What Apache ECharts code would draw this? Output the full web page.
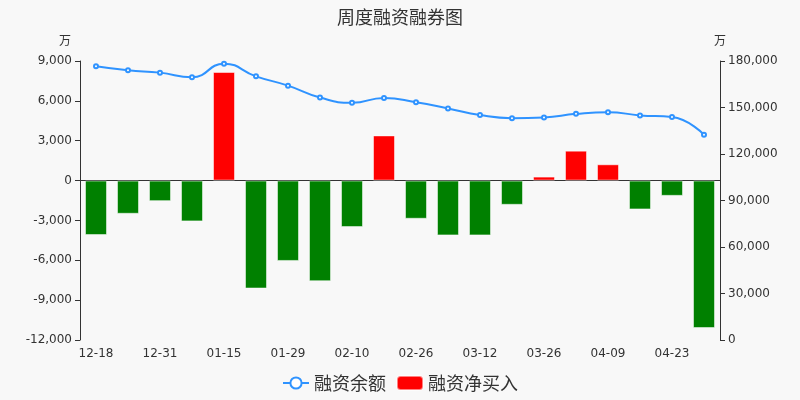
<!DOCTYPE html>
<html>
<head>
<meta charset="utf-8">
<script src="https://cdn.jsdelivr.net/npm/echarts@6/dist/echarts.min.js"></script>
<style>
  html, body { margin: 0; padding: 0; background: #f8f8f8; }
  #chart { width: 800px; height: 400px; }
</style>
</head>
<body>
<div id="chart"></div>
<script>
// 周日期
var dates = ["12-18", "12-25", "12-31", "01-08", "01-15", "01-22", "01-29", "02-05", "02-10", "02-19",
  "02-26", "03-05", "03-12", "03-19", "03-26", "04-02", "04-09", "04-16", "04-23", "04-30"];
// 融资净买入（万）
var netBuy = [-4100, -2500, -1550, -3075, 8175, -8125, -6050, -7575, -3500, 3400,
  -2875, -4125, -4125, -1825, 300, 2250, 1225, -2175, -1150, -11100];
// 融资余额（万）
var balance = [176600, 174000, 172500, 169500, 178300, 170100, 164100, 156400, 153000, 156200,
  153400, 149400, 145100, 143100, 143600, 145900, 147000, 144900, 143800, 132400];

var myChart = echarts.init(document.getElementById("chart"));
var fontFamily = "DejaVu Sans, Noto Sans CJK SC, sans-serif";

myChart.setOption({
  backgroundColor: "#f8f8f8",
  animation: false,
  textStyle: { fontFamily: fontFamily },
  title: {
    text: "周度融资融券图",
    left: "center",
    top: 3,
    textStyle: { fontSize: 18, fontWeight: "normal", color: "#333", fontFamily: "Noto Sans CJK SC" },
  },
  legend: {
    bottom: 3,
    left: "center",
    itemWidth: 26,
    itemHeight: 14,
    itemGap: 10,
    textStyle: { fontSize: 18, color: "#333", fontFamily: "Noto Sans CJK SC" },
    data: [
      { name: "融资余额" },
      { name: "融资净买入", icon: "roundRect" },
    ],
  },
  grid: { left: 80, right: 80, top: 61, bottom: 60 },
  xAxis: [
    {
      type: "category",
      data: dates,
      axisLine: { onZero: true, lineStyle: { color: "#333" } },
      axisTick: { interval: 1, alignWithLabel: false },
      axisLabel: { show: false },
    },
    {
      type: "category",
      data: dates,
      position: "bottom",
      axisLine: { show: false, onZero: false },
      axisTick: { show: false },
      axisLabel: { interval: 1, color: "#333", fontSize: 12 },
    },
  ],
  yAxis: [
    {
      type: "value",
      name: "万",
      nameGap: 15,
      nameTextStyle: { color: "#333", fontFamily: "Noto Sans CJK SC", fontSize: 12, padding: [0, 30, 0, 0] },
      min: -12000,
      max: 9000,
      interval: 3000,
      axisLine: { show: true, lineStyle: { color: "#333" } },
      axisTick: { show: true },
      axisLabel: { color: "#333", fontSize: 12 },
      splitLine: { show: false },
    },
    {
      type: "value",
      name: "万",
      nameGap: 15,
      nameTextStyle: { color: "#333", fontFamily: "Noto Sans CJK SC", fontSize: 12 },
      min: 0,
      max: 180000,
      interval: 30000,
      axisLine: { show: true, lineStyle: { color: "#333" } },
      axisTick: { show: true },
      axisLabel: { color: "#333", fontSize: 12 },
      splitLine: { show: false },
    },
  ],
  series: [
    {
      name: "融资余额",
      type: "line",
      yAxisIndex: 1,
      smooth: true,
      symbol: "emptyCircle",
      symbolSize: 4,
      z: 3,
      itemStyle: { color: "#2f93ff" },
      lineStyle: { width: 2, color: "#2f93ff" },
      data: balance,
    },
    {
      name: "融资净买入",
      type: "bar",
      barWidth: 22,
      itemStyle: { color: "red", borderColor: "rgba(255,255,255,0.5)", borderWidth: 1 },
      data: netBuy.map(function (v) {
        return { value: v, itemStyle: { color: v >= 0 ? "red" : "green" } };
      }),
    },
  ],
});
</script>
</body>
</html>
